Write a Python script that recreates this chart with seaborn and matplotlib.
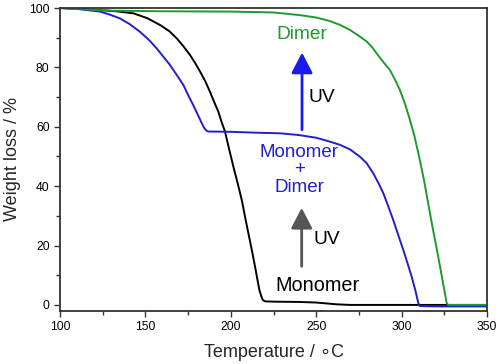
import pandas as pd
import matplotlib.pyplot as plt
import seaborn as sns
from matplotlib.ticker import MultipleLocator

# TGA curves (temperature in C, weight in %)
monomer_t = [100, 110, 123, 133, 143, 151, 158.5, 164, 168.3, 172, 176.1, 179, 182, 185, 187.8, 190, 192.7,
             194.5, 196.6, 199, 201.5, 204, 206.4, 208.3, 210.3, 212.3, 214.2, 215.5, 216.7, 217.8, 218.7,
             220, 225, 240, 250, 256, 262, 270, 350]
monomer_w = [100, 99.8, 99.3, 98.9, 98.2, 96.6, 94.3, 92.2, 89.8, 87.3, 84.2, 81.6, 78.6, 75.4, 71.8, 68.7, 65.1,
             61.8, 58.4, 52.5, 46.6, 41, 35.4, 29.8, 24.1, 18.5, 12.9, 8.8, 5.1, 3, 1.7,
             1.2, 1.1, 1.0, 0.8, 0.5, 0.2, 0, 0]

mixed_t = [100, 110, 123.4, 129, 135.1, 141, 146.8, 152, 156.6, 160.5, 164.4, 168.3, 172.2, 175, 178, 180.5,
           183, 184.5, 185.9, 187, 200, 215, 229, 240, 250, 258, 264, 270, 275.6, 279.6, 283.4, 286.5, 289.3,
           292.2, 295.1, 298, 301, 303.5, 305.9, 308, 309.8, 310.8, 320, 350]
mixed_w = [100, 99.7, 98.8, 97.8, 96.5, 94.5, 92, 89.3, 86.4, 83.6, 80.8, 77.5, 74.1, 70.7, 67.3, 64.3,
           61.2, 59.5, 58.6, 58.4, 58.3, 58.0, 57.8, 57.2, 56.3, 55, 53.9, 52.3, 49.9, 47.7, 44.3, 41, 37.6,
           33.2, 28.6, 23.6, 18.5, 14, 9.5, 5, 0.6, -0.4, -0.5, -0.5]

dimer_t = [100, 115, 130, 160, 200, 225, 240.5, 250, 258, 264, 269.8, 275, 279.6, 283, 285.4, 289, 293.2,
           296, 299, 302, 304.9, 307.5, 309.8, 313.1, 315.2, 318, 320.7, 323.5, 326.4, 327.3, 350]
dimer_w = [100, 99.5, 99.1, 98.9, 98.8, 98.5, 97.6, 96.8, 95.6, 94.3, 92.6, 90.6, 88.7, 86.6, 84.7, 82, 79.1,
           76, 72.4, 67.7, 62.3, 56.9, 51.1, 42.1, 35.4, 26.5, 18.5, 9.8, 0.6, 0, 0]

BLUE = "#1f1fcc"
GREEN = "#1e9a2c"

sns.set_style("ticks")
plt.rcParams['font.family'] = ['Liberation Sans', 'DejaVu Sans']

fig, ax = plt.subplots(figsize=(5, 3.64), dpi=100)
fig.subplots_adjust(left=0.12, right=0.974, top=0.978, bottom=0.146)

sns.lineplot(x=monomer_t, y=monomer_w, color="black", lw=1.4, ax=ax, estimator=None, sort=False)
sns.lineplot(x=mixed_t, y=mixed_w, color=BLUE, lw=1.4, ax=ax, estimator=None, sort=False)
sns.lineplot(x=dimer_t, y=dimer_w, color=GREEN, lw=1.4, ax=ax, estimator=None, sort=False)

ax.set_xlim(100, 350)
ax.set_ylim(-2, 100)
ax.xaxis.set_major_locator(MultipleLocator(50))
ax.xaxis.set_minor_locator(MultipleLocator(25))
ax.yaxis.set_major_locator(MultipleLocator(20))
ax.yaxis.set_minor_locator(MultipleLocator(10))
ax.tick_params(which="both", direction="out", colors="#333333", labelcolor="black", width=1.0, labelsize=8.7)
ax.tick_params(which="major", length=4)
ax.tick_params(which="minor", length=3)
for s in ax.spines.values():
    s.set_visible(True)
    s.set_color("#333333")
    s.set_linewidth(1.3)

ax.set_xlabel("Temperature / \u2218C", fontsize=13, labelpad=8)
ax.set_ylabel("Weight loss / %", fontsize=13, labelpad=6)

# annotations
arrow = "-|>,head_width=0.65,head_length=1.25"
ax.text(241.5, 91, "Dimer", color=GREEN, fontsize=13.8, ha="center", va="center")
ax.annotate("", xy=(241.7, 85), xytext=(241.7, 59),
            arrowprops=dict(arrowstyle=arrow, color="#1a1aee", lw=2, shrinkA=0, shrinkB=0))
ax.text(253.5, 70, "UV", color="black", fontsize=13.8, ha="center", va="center")
ax.text(240, 51.5, "Monomer", color=BLUE, fontsize=13.5, ha="center", va="center")
ax.text(240, 45.5, "+", color=BLUE, fontsize=13.5, ha="center", va="center")
ax.text(240, 39.4, "Dimer", color=BLUE, fontsize=13.5, ha="center", va="center")
ax.annotate("", xy=(241.5, 32.7), xytext=(241.5, 13),
            arrowprops=dict(arrowstyle=arrow, color="#555555", lw=2, shrinkA=0, shrinkB=0))
ax.text(256, 22, "UV", color="black", fontsize=13.8, ha="center", va="center")
ax.text(251, 6.7, "Monomer", color="black", fontsize=14.3, ha="center", va="center")

plt.savefig("out.png", dpi=100)
